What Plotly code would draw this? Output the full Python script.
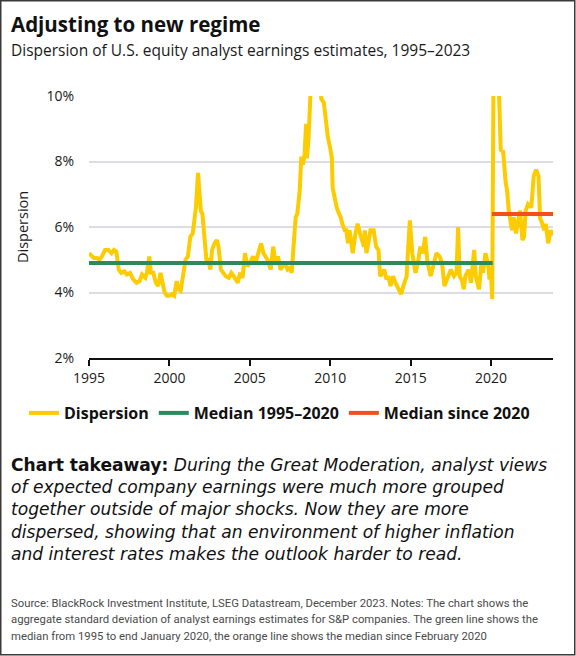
import plotly.graph_objects as go

# dispersion of analyst earnings estimates
years = [
    1995.0, 1995.15, 1995.3, 1995.5, 1995.65, 1995.8, 1996.0, 1996.2, 1996.4, 1996.55,
    1996.7, 1996.85, 1997.0, 1997.2, 1997.35, 1997.55, 1997.75, 1997.95, 1998.15, 1998.3,
    1998.5, 1998.6, 1998.75, 1998.85, 1999.0, 1999.15, 1999.3, 1999.45, 1999.55, 1999.7,
    1999.85, 2000.0, 2000.15, 2000.3, 2000.45, 2000.55, 2000.7, 2000.85, 2001.0, 2001.15,
    2001.3, 2001.45, 2001.55, 2001.65, 2001.78, 2001.85, 2001.95, 2002.05, 2002.2, 2002.3,
    2002.4, 2002.55, 2002.65, 2002.8, 2002.95, 2003.05, 2003.2, 2003.35, 2003.5, 2003.7,
    2003.85, 2004.0, 2004.15, 2004.25, 2004.4, 2004.55, 2004.7, 2004.85, 2005.0, 2005.2,
    2005.35, 2005.5, 2005.7, 2005.85, 2006.0, 2006.1, 2006.3, 2006.45, 2006.6, 2006.75,
    2006.9, 2007.05, 2007.2, 2007.35, 2007.5, 2007.6, 2007.7, 2007.85, 2007.95, 2008.1,
    2008.2, 2008.3, 2008.4, 2008.5, 2008.55, 2008.65, 2008.8, 2008.9, 2009.1, 2009.3,
    2009.45, 2009.6, 2009.75, 2009.85, 2010.0, 2010.1, 2010.15, 2010.3, 2010.4, 2010.55,
    2010.65, 2010.75, 2010.9, 2011.0, 2011.1, 2011.2, 2011.3, 2011.4, 2011.55, 2011.7,
    2011.85, 2012.0, 2012.1, 2012.15, 2012.25, 2012.4, 2012.5, 2012.7, 2012.85, 2013.0,
    2013.1, 2013.25, 2013.35, 2013.5, 2013.6, 2013.75, 2013.9, 2014.05, 2014.2, 2014.4,
    2014.55, 2014.75, 2014.85, 2014.95, 2015.1, 2015.3, 2015.45, 2015.6, 2015.75, 2015.9,
    2016.05, 2016.25, 2016.45, 2016.6, 2016.8, 2016.95, 2017.1, 2017.25, 2017.5, 2017.7,
    2017.85, 2017.95, 2018.05, 2018.2, 2018.3, 2018.4, 2018.6, 2018.75, 2018.95, 2019.05,
    2019.25, 2019.4, 2019.5, 2019.65, 2019.8, 2019.9, 2020.0, 2020.07, 2020.15, 2020.25,
    2020.4, 2020.5, 2020.6, 2020.75, 2020.9, 2021.0, 2021.1, 2021.2, 2021.3, 2021.4,
    2021.55, 2021.65, 2021.8, 2021.95, 2022.05, 2022.15, 2022.3, 2022.5, 2022.65, 2022.8,
    2022.95, 2023.05, 2023.15, 2023.3, 2023.4, 2023.55, 2023.7, 2023.85,
]
dispersion = [
    5.2, 5.1, 5.05, 5.05, 5.0, 5.1, 5.3, 5.3, 5.2, 5.3,
    5.25, 4.7, 4.6, 4.65, 4.55, 4.6, 4.4, 4.3, 4.35, 4.55,
    4.45, 4.6, 5.1, 4.6, 4.6, 4.3, 4.2, 4.6, 4.3, 4.0,
    3.9, 3.9, 3.95, 3.9, 4.35, 4.1, 4.05, 4.6, 5.0, 5.1,
    5.7, 5.8, 6.2, 6.6, 7.65, 7.0, 6.5, 6.4, 5.4, 5.0,
    5.0, 4.7, 5.3, 5.5, 5.6, 5.4, 4.7, 4.6, 4.5, 4.45,
    4.6, 4.5, 4.35, 4.3, 4.6, 4.45, 5.2, 4.8, 4.9, 5.1,
    4.9, 5.2, 5.5, 5.2, 5.1, 5.0, 4.7, 5.4, 4.9, 5.1,
    4.7, 4.8, 4.9, 4.7, 4.75, 4.6, 5.4, 6.3, 6.4, 7.1,
    8.15, 7.9, 8.2, 9.15, 8.1, 8.7, 10.4, 11.5, 12.0, 10.8,
    9.9, 9.8, 9.1, 8.75, 8.4, 8.1, 7.2, 6.8, 6.6, 6.4,
    6.3, 6.1, 5.9, 5.9, 5.5, 5.9, 5.6, 5.2, 5.75, 6.1,
    5.8, 5.6, 5.4, 5.9, 5.2, 5.6, 5.9, 5.9, 5.4, 5.3,
    4.5, 4.6, 4.7, 4.4, 4.5, 4.2, 4.5, 4.3, 4.15, 3.95,
    4.2, 4.5, 5.4, 6.2, 5.2, 4.6, 4.9, 5.4, 5.2, 5.7,
    4.9, 4.5, 4.9, 5.2, 5.1, 4.9, 4.2, 4.4, 4.7, 4.5,
    4.6, 6.0, 4.5, 4.35, 4.1, 4.5, 4.7, 4.3, 5.3, 4.5,
    4.1, 4.9, 4.6, 5.2, 4.9, 4.4, 4.5, 3.8, 10.5, 12.5,
    11.0, 10.0, 8.35, 8.3, 7.4, 7.1, 6.5, 6.1, 5.9, 6.3,
    5.8, 6.1, 6.5, 5.6, 5.7, 6.5, 6.7, 6.6, 7.55, 7.75,
    7.55, 6.25, 6.15, 5.9, 6.1, 5.5, 5.9, 5.75,
]

median_old_x = [1995.0, 2020.1]
median_old_y = [4.9, 4.9]
median_new_x = [2020.05, 2023.9]
median_new_y = [6.4, 6.4]

x_ticks = [1995, 2000, 2005, 2010, 2015, 2020]
y_ticks = [2, 4, 6, 8, 10]
y_labels = ['2%', '4%', '6%', '8%', '10%']

W, H = 576, 656
L, R, T, B = 89, 23, 96, 298
PW, PH = W - L - R, H - T - B


def px(x):
    return (x - L) / PW


def py(y):
    return (H - B - y) / PH


FONT = 'Open Sans, Roboto, Arial, sans-serif'

fig = go.Figure()
fig.add_trace(go.Scatter(x=years, y=dispersion, mode='lines', name='<b>Dispersion</b>',
                         line=dict(color='#fccc00', width=4)))
fig.add_trace(go.Scatter(x=median_old_x, y=median_old_y, mode='lines', name='<b>Median 1995–2020</b>',
                         line=dict(color='#2b8a5c', width=4)))
fig.add_trace(go.Scatter(x=median_new_x, y=median_new_y, mode='lines', name='<b>Median since 2020</b>',
                         line=dict(color='#f24e1e', width=4)))

fig.update_layout(
    width=W, height=H,
    margin=dict(l=L, r=R, t=T, b=B),
    paper_bgcolor='white', plot_bgcolor='white',
    font=dict(family=FONT, size=14, color='#1a1a1a'),
    showlegend=True,
    legend=dict(orientation='h', x=px(24), xanchor='left', y=py(413), yanchor='middle',
                font=dict(size=16, color='#111'), itemwidth=30, tracegroupgap=0),
)
fig.update_xaxes(range=[1995, 2023.85], tickvals=x_ticks, showgrid=False,
                 showline=True, linecolor='#111', linewidth=2,
                 ticks='outside', ticklen=6, tickwidth=2, tickcolor='#111',
                 tickfont=dict(size=14), zeroline=False)
fig.update_yaxes(range=[2, 10], tickvals=y_ticks, ticktext=y_labels, showgrid=True,
                 gridcolor='#dcdce2', gridwidth=1.5, showline=False, zeroline=False,
                 ticklabelstandoff=14, tickfont=dict(size=14))

fig.add_annotation(text='<b>Adjusting to new regime</b>', x=px(9), y=py(24),
                   font=dict(size=20.5, color='#111'))
fig.add_annotation(text='Dispersion of U.S. equity analyst earnings estimates, 1995–2023', x=px(9), y=py(50),
                   font=dict(size=15.5, color='#1a1a1a'))

takeaway = ('<b>Chart takeaway:</b> <i>During the Great Moderation, analyst views<br>'
            'of expected company earnings were much more grouped<br>'
            'together outside of major shocks. Now they are more<br>'
            'dispersed, showing that an environment of higher inflation<br>'
            'and interest rates makes the outlook harder to read.</i>')
fig.add_annotation(text=takeaway, x=px(9), y=py(509),
                   font=dict(family='DejaVu Sans, Open Sans', size=17.1, color='#111'))

source_lines = [
    'Source: BlackRock Investment Institute, LSEG Datastream, December 2023. Notes: The chart shows the',
    'aggregate standard deviation of analyst earnings estimates for S&P companies. The green line shows the',
    'median from 1995 to end January 2020, the orange line shows the median since February 2020',
]
for i, line in enumerate(source_lines):
    fig.add_annotation(text=line, x=px(9), y=py(603 + 16.8 * i),
                       font=dict(family='Roboto, Arial', size=11.3, color='#4a4a4a'))

fig.update_annotations(xref='paper', yref='paper', xanchor='left', yanchor='middle', align='left',
                       showarrow=False)

fig.add_annotation(text='Dispersion', textangle=-90, x=px(22), y=py(227), xref='paper', yref='paper',
                   xanchor='center', yanchor='middle', showarrow=False, font=dict(size=14.5, color='#1a1a1a'))

# outer frame
fig.add_shape(type='rect', xref='paper', yref='paper', x0=px(0.75), x1=px(W - 1.25), y0=py(H - 1.25), y1=py(0.75),
              line=dict(color='#3a3a3a', width=1.5), fillcolor='rgba(0,0,0,0)', layer='above')

fig.write_html('out.html', config={'displayModeBar': False},
               post_script="document.body.style.margin='0';")
